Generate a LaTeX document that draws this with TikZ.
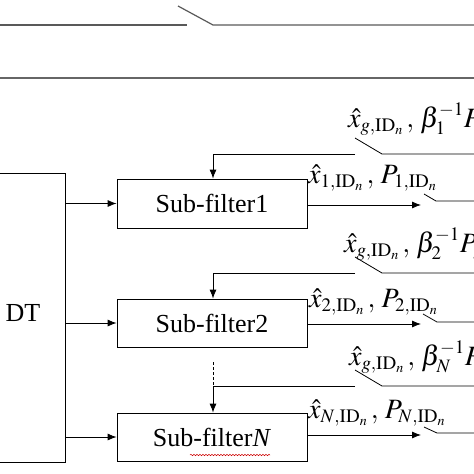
\documentclass[tikz,border=0pt]{standalone}
\usepackage{mathptmx}
\usepackage{fontspec}
\setmainfont{Liberation Serif}
\DeclareMathSizes{28}{28}{19}{14}
\usetikzlibrary{arrows.meta,decorations.pathmorphing}
\begin{document}
\begin{tikzpicture}[x=1pt,y=-1pt,
  box/.style={draw,line width=0.8pt,minimum width=190pt,minimum height=48pt,inner sep=0pt,font=\fontsize{26}{30}\selectfont},
  conn/.style={line width=0.8pt},
  arr/.style={conn,-{Latex[length=9pt,width=7pt]}},
  topline/.style={line width=1.2pt,black!65},
  lbl/.style={anchor=base west,inner sep=0pt,font=\fontsize{28}{32}\selectfont}]
\useasboundingbox (0,0) rectangle (474,474);
\clip (0,0) rectangle (474,474);
% top lines
\coordinate (t0) at (-5,25);
\coordinate (t1) at (187,25);
\coordinate (tb) at (178,6);
\coordinate (t2) at (213,25);
\coordinate (t3) at (480,25);
\draw[topline] (t0) -- (t1);
\draw[topline] (tb) -- (t2) -- (t3);
\coordinate (u0) at (-5,78);
\coordinate (u1) at (480,78);
\draw[line width=1.6pt,black!60] (u0) -- (u1);
% DT
\node[draw,line width=0.8pt,minimum width=75pt,minimum height=289pt,inner sep=0pt,font=\fontsize{26}{30}\selectfont] (dt) at (27.5,317.5) {};
\node[inner sep=0pt,font=\fontsize{26}{30}\selectfont] (dtl) at (23,313) {DT};
% sub-filters
\node[box,minimum height=49pt] (sf1) at (212,203.5) {Sub-filter1};
\node[box] (sf2) at (212,323) {Sub-filter2};
\node[box] (sfN) at (212,437) {Sub-filter\textit{N}};
\coordinate (sq1) at (190,455);
\coordinate (sq2) at (270,455);
\draw[red!80!black,line width=0.5pt,decorate,decoration={snake,amplitude=0.7pt,segment length=3pt}] (sq1) -- (sq2);
% DT to sub-filters
\draw[arr] (dt.east |- sf1.west) -- (sf1.west);
\draw[arr] (dt.east |- sf2.west) -- (sf2.west);
\draw[arr] (dt.east |- sfN.west) -- (sfN.west);
% feedback 1
\coordinate (f1) at (213,154);
\coordinate (s1a) at (355,154);
\coordinate (b1) at (355,138);
\coordinate (s1b) at (382,154);
\coordinate (r1) at (480,154);
\draw[arr] (s1a) -- (f1) -- (f1 |- sf1.north);
\draw[conn] (b1) -- (s1b) -- (r1);
% feedback 2
\coordinate (f2) at (213,273);
\coordinate (s2a) at (355,273);
\coordinate (b2) at (355,257);
\coordinate (s2b) at (382,273);
\coordinate (r2) at (480,273);
\draw[arr] (s2a) -- (f2) -- (f2 |- sf2.north);
\draw[conn] (b2) -- (s2b) -- (r2);
% feedback N
\coordinate (d0) at (213,362);
\coordinate (f3) at (213,386);
\coordinate (s3a) at (355,386);
\coordinate (b3) at (355,370);
\coordinate (s3b) at (382,386);
\coordinate (r3) at (480,386);
\draw[conn,dashed,dash pattern=on 3pt off 2pt] (d0) -- (f3);
\draw[arr] (s3a) -- (f3) -- (f3 |- sfN.north);
\draw[conn] (b3) -- (s3b) -- (r3);
% outputs
\coordinate (o1) at (421,205);
\coordinate (ob1) at (424,194);
\coordinate (oc1) at (436,201);
\coordinate (oe1) at (480,201);
\draw[arr] (sf1.east |- o1) -- (o1);
\draw[conn] (ob1) -- (oc1) -- (oe1);
\coordinate (o2) at (421,324);
\coordinate (ob2) at (423,314);
\coordinate (oc2) at (437,322);
\coordinate (oe2) at (480,322);
\draw[arr] (sf2.east |- o2) -- (o2);
\draw[conn] (ob2) -- (oc2) -- (oe2);
\coordinate (o3) at (421,435);
\coordinate (ob3) at (424,427);
\coordinate (oc3) at (437,433);
\coordinate (oe3) at (480,433);
\draw[arr] (sfN.east |- o3) -- (o3);
\draw[conn] (ob3) -- (oc3) -- (oe3);
% labels
\node[lbl] (l1) at (348,127) {$\hat{x}_{g,\mathrm{ID}_n}\,,\,\beta_1^{-1}P_{g}$};
\node[lbl] (m1) at (308,183) {$\hat{x}_{1,\mathrm{ID}_n}\,,\,P_{1,\mathrm{ID}_n}$};
\node[lbl] (l2) at (344,252) {$\hat{x}_{g,\mathrm{ID}_n}\,,\,\beta_2^{-1}P_{g}$};
\node[lbl] (m2) at (309,307) {$\hat{x}_{2,\mathrm{ID}_n}\,,\,P_{2,\mathrm{ID}_n}$};
\node[lbl] (l3) at (349,365) {$\hat{x}_{g,\mathrm{ID}_n}\,,\,\beta_N^{-1}P_{g}$};
\node[lbl] (m3) at (308,418) {$\hat{x}_{N,\mathrm{ID}_n}\,,\,P_{N,\mathrm{ID}_n}$};
\end{tikzpicture}
\end{document}
